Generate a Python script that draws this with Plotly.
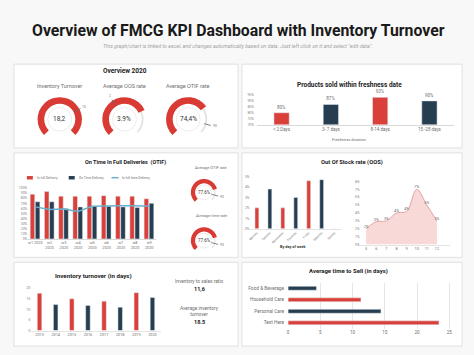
import math
import plotly.graph_objects as go

W, H = 474, 355
def X(px): return px / W
def Y(py): return 1 - py / H

RED = "#D9403A"
NAVY = "#273E51"
TEAL = "#6AAFCB"
PINK_FILL = "#F9D8D8"
PINK_LINE = "#E3A4A4"
GRAY_TXT = "#6E6E6E"
FONT = "Roboto"

# ---------------- data ----------------
gauge_titles = ["Inventory Turnover", "Average OOS rate", "Average OTIF rate"]
gauge_values = ["18,2", "3.9%", "74,4%"]
gauge_fill = [1.0, 0.74, 0.70]
gauge_target_labels = ["15", "2", "90"]
gauge_target_pos = [0.73, 0.38, 0.89]

fresh_cats = ["< 2 Days", "3- 7 days", "8-14 days", "15 -28 days"]
fresh_vals = [80, 87, 93, 90]
fresh_ticks = [70, 75, 80, 85, 90, 95]

otif_weeks = ["w1 2020", "w2<br>2020", "w3<br>2020", "w4<br>2020", "w5<br>2020",
              "w6<br>2020", "w7<br>2020", "w8<br>2020", "w9<br>2020"]
otif_infull = [88, 93, 84, 84, 84, 85, 84, 84, 79]
otif_ontime = [73, 73, 60, 63, 64, 64, 63, 62, 70]
otif_infull_time = [63, 58, 59, 54, 64, 65, 65, 65, 64]
otif_series = ["In full Delivery", "On Time Delivery", "In full time Delivery"]

small_gauge_titles = ["Average OTIF rate", "Average time rate"]
small_gauge_values = ["77.6%", "77.6%"]
small_gauge_fill = [0.776, 0.776]
small_gauge_target_labels = ["90", "90"]
small_gauge_target_pos = [0.89, 0.89]

oos_days = ["Monday", "Tuesday", "Wednesday", "Thursday", "Friday", "Saturday", "Sunday"]
oos_day_vals = [2.0, 3.8, 2.0, 3.0, 4.6, 4.7, 0]
oos_hours = [5, 6, 7, 8, 9, 10, 11, 12]
oos_hour_vals = [2.0, 2.9, 3.0, 4.0, 4.2, 7.0, 5.0, 3.0]
oos_hour_labels = ["2%", "3%", "3%", "4%", "4%", "7%", "5%", "3%"]

inv_years = ["2013", "2014", "2015", "2016", "2017", "2018", "2019", "2020"]
inv_days = [17.5, 12.2, 14.9, 11.8, 13.8, 11.0, 17.8, 15.5]
inv_ratio_label = "Inventory to sales ratio"
inv_ratio_value = "11,6"
inv_avg_label = "Average inventory<br>turnover"
inv_avg_value = "18.5"

sell_cats = ["Food & Beverage", "Household Care", "Personal Care", "Text Here"]
sell_days = [4.4, 11.3, 14.4, 23.4]

# ---------------- figure ----------------
fig = go.Figure()
shapes = []
annotations = []

def ann(x, y, text, size=5, color=GRAY_TXT, bold=False, xanchor="center", italic=False, family=FONT):
    t = text
    if bold:
        t = "<b>" + t + "</b>"
    if italic:
        t = "<i>" + t + "</i>"
    annotations.append(dict(x=X(x), y=Y(y), xref="paper", yref="paper", text=t,
                            showarrow=False, xanchor=xanchor, yanchor="middle",
                            font=dict(size=size, color=color, family=family)))

# panels
panels = [(12, 62, 237, 147), (241, 62, 462, 147),
          (12, 152, 237, 258), (241, 152, 462, 258),
          (12, 263, 237, 348), (241, 263, 462, 348)]
for (x0, y0, x1, y1) in panels:
    shapes.append(dict(type="rect", xref="paper", yref="paper", x0=X(x0), x1=X(x1),
                       y0=Y(y1), y1=Y(y0), fillcolor="white",
                       line=dict(color="#E0E0E0", width=1), layer="below"))

# title
ann(237, 28, "Overview of FMCG KPI Dashboard with Inventory Turnover", size=15.8,
    color="#1A1A1A", bold=True)
ann(237, 43.5, 'This graph/chart is linked to excel, and changes automatically based on data. '
    'Just left click on it and select "edit data".', size=5.3, color="#A0A0A0", italic=True)

def gauge(cx, cy, r, fill, val_text, tgt_pos, tgt_label, hole, val_size, inner_r):
    r2 = r * 0.86
    fig.add_trace(go.Pie(values=[270, 90], marker=dict(colors=["#E4E4E4", "rgba(0,0,0,0)"]),
                         hole=0.9, rotation=225, direction="clockwise", sort=False,
                         textinfo="none", hoverinfo="skip", showlegend=False,
                         domain=dict(x=[X(cx - r2), X(cx + r2)], y=[Y(cy + r2), Y(cy - r2)])))
    fig.add_trace(go.Pie(values=[fill * 270, (1 - fill) * 270, 90],
                         marker=dict(colors=["#D93A34", "rgba(0,0,0,0)", "rgba(0,0,0,0)"]),
                         hole=hole, rotation=225, direction="clockwise", sort=False,
                         textinfo="none", hoverinfo="skip", showlegend=False,
                         domain=dict(x=[X(cx - r), X(cx + r)], y=[Y(cy + r), Y(cy - r)])))
    shapes.append(dict(type="circle", xref="paper", yref="paper",
                       x0=X(cx - inner_r), x1=X(cx + inner_r), y0=Y(cy + inner_r), y1=Y(cy - inner_r),
                       line=dict(color="#EDEDED", width=1)))
    ann(cx, cy, val_text, size=val_size, color="#333333")
    a = math.radians(225 + tgt_pos * 270)
    p0 = (cx + (r - 6) * math.sin(a), cy - (r - 6) * math.cos(a))
    p1 = (cx + (r + 1) * math.sin(a), cy - (r + 1) * math.cos(a))
    shapes.append(dict(type="line", xref="paper", yref="paper", x0=X(p0[0]), y0=Y(p0[1]),
                       x1=X(p1[0]), y1=Y(p1[1]), line=dict(color="#666666", width=0.8)))
    pl = (cx + (r + 5) * math.sin(a), cy - (r + 5) * math.cos(a))
    ann(pl[0], pl[1], tgt_label, size=3.5, color="#777777")

# panel 1 gauges
ann(124, 69, "Overview 2020", size=6.5, color="#222222", bold=True)
g_cx = [58, 123, 187]
for i in range(3):
    ann(g_cx[i], 84, gauge_titles[i], size=5.5, color=GRAY_TXT)
    gauge(g_cx[i], 118, 22.5, gauge_fill[i], gauge_values[i], gauge_target_pos[i],
          gauge_target_labels[i], 0.70, 6.5, 12)

# panel 3 small gauges
sg_cy = [192, 241]
sg_ty = [167, 216]
for i in range(2):
    ann(210, sg_ty[i], small_gauge_titles[i], size=4, color=GRAY_TXT)
    gauge(203, sg_cy[i], 13.5, small_gauge_fill[i], small_gauge_values[i],
          small_gauge_target_pos[i], small_gauge_target_labels[i], 0.68, 4.5, 7.5)

# ---------------- panel 2: freshness ----------------
ann(349, 83, "Products sold within freshness date", size=6.5, color="#222222", bold=True)
fig.add_trace(go.Bar(x=fresh_cats, y=fresh_vals, xaxis="x", yaxis="y", width=0.31,
                     marker=dict(color=[RED, NAVY, RED, NAVY]),
                     text=[f"{v}%" for v in fresh_vals], textposition="outside",
                     textfont=dict(size=4.5, color=GRAY_TXT, family=FONT),
                     cliponaxis=False, hoverinfo="skip", showlegend=False))
ann(348, 138, "Freshness duration", size=4, color=GRAY_TXT)

# ---------------- panel 3: OTIF ----------------
ann(124, 162, "On Time In Full Deliveries  (OTIF)", size=5.5, color="#222222", bold=True)
fig.add_trace(go.Bar(x=otif_weeks, y=otif_infull, name=otif_series[0], xaxis="x2", yaxis="y2",
                     width=0.32, offset=-0.36,
                     marker=dict(color=RED), hoverinfo="skip", showlegend=False))
fig.add_trace(go.Bar(x=otif_weeks, y=otif_ontime, name=otif_series[1], xaxis="x2", yaxis="y2",
                     width=0.32, offset=0.0,
                     marker=dict(color=NAVY), hoverinfo="skip", showlegend=False))
fig.add_trace(go.Scatter(x=otif_weeks, y=otif_infull_time, name=otif_series[2], xaxis="x2",
                         yaxis="y2", mode="lines", line=dict(color=TEAL, width=1.5),
                         hoverinfo="skip", showlegend=False))
leg = [(25, RED, "box"), (67, NAVY, "box"), (110, TEAL, "line")]
for (lx, col, kind), name in zip(leg, otif_series):
    if kind == "box":
        shapes.append(dict(type="rect", xref="paper", yref="paper", x0=X(lx), x1=X(lx + 6),
                           y0=Y(179), y1=Y(175.5), fillcolor=col, line=dict(width=0)))
    else:
        shapes.append(dict(type="line", xref="paper", yref="paper", x0=X(lx), x1=X(lx + 7),
                           y0=Y(177.2), y1=Y(177.2), line=dict(color=col, width=1.5)))
    ann(lx + 8, 177.2, name, size=3.3, color=GRAY_TXT, xanchor="left")

# ---------------- panel 4: OOS ----------------
ann(351, 162, "Out Of Stock rate (OOS)", size=5.8, color="#222222", bold=True)
fig.add_trace(go.Bar(x=oos_days, y=oos_day_vals, xaxis="x3", yaxis="y3", width=0.3,
                     marker=dict(color=[RED if i % 2 == 0 else NAVY for i in range(len(oos_days))]),
                     hoverinfo="skip", showlegend=False))
ann(293, 247, "By day of week", size=3.8, color="#333333", bold=True)
fig.add_trace(go.Scatter(x=oos_hours, y=oos_hour_vals, xaxis="x4", yaxis="y4",
                         mode="lines+text", line=dict(color=PINK_LINE, width=1, shape="spline",
                                                      smoothing=1.0),
                         fill="tozeroy", fillcolor=PINK_FILL,
                         text=oos_hour_labels, textposition="top center",
                         textfont=dict(size=3.8, color=GRAY_TXT, family=FONT),
                         cliponaxis=False, hoverinfo="skip", showlegend=False))

# ---------------- panel 5: inventory turnover ----------------
ann(92, 277, "Inventory turnover (in days)", size=6.2, color="#222222", bold=True)
fig.add_trace(go.Bar(x=inv_years, y=inv_days, xaxis="x5", yaxis="y5", width=0.28,
                     marker=dict(color=[RED if i % 2 == 0 else NAVY for i in range(len(inv_years))]),
                     hoverinfo="skip", showlegend=False))
ann(198, 282, inv_ratio_label, size=4.8, color=GRAY_TXT)
ann(198, 290, inv_ratio_value, size=5.5, color="#222222", bold=True)
ann(198, 313, inv_avg_label, size=4.8, color=GRAY_TXT)
ann(198, 324, inv_avg_value, size=5.5, color="#222222", bold=True)

# ---------------- panel 6: time to sell ----------------
ann(348, 272, "Average time to Sell (in days)", size=6, color="#222222", bold=True)
fig.add_trace(go.Bar(x=sell_days, y=sell_cats, orientation="h", xaxis="x6", yaxis="y6",
                     width=0.34, marker=dict(color=[NAVY, RED, NAVY, RED]),
                     hoverinfo="skip", showlegend=False))

def xd(a, b): return [X(a), X(b)]
def yd(top, bottom): return [Y(bottom), Y(top)]

fig.update_layout(
    width=W, height=H, margin=dict(l=0, r=0, t=0, b=0),
    paper_bgcolor="#F8F8F8", plot_bgcolor="rgba(0,0,0,0)",
    font=dict(family=FONT, color=GRAY_TXT),
    shapes=shapes, annotations=annotations,
    xaxis=dict(domain=xd(256, 454), anchor="y", showgrid=False, showline=True,
               linecolor="#D9D9D9", linewidth=1, ticks="", tickfont=dict(size=4.5, color=GRAY_TXT)),
    yaxis=dict(domain=yd(93.3, 123.3), anchor="x", range=[70, 95], tickvals=fresh_ticks,
               ticktext=[f"{v}%" for v in fresh_ticks], showgrid=False, zeroline=False,
               tickfont=dict(size=3.5, color="#888888"), ticklabelstandoff=2),
    xaxis2=dict(domain=xd(26.3, 155), anchor="y2", showgrid=False, showline=True,
                linecolor="#D9D9D9", ticks="", tickfont=dict(size=3.8, color=GRAY_TXT)),
    yaxis2=dict(domain=yd(187.7, 239.3), anchor="x2", range=[0, 100], dtick=10,
                ticksuffix="%", showgrid=False, zeroline=False,
                tickfont=dict(size=3.5, color="#888888")),
    xaxis3=dict(domain=xd(249.5, 340.5), anchor="y3", showgrid=False, showline=True,
                linecolor="#E3E3E3", ticks="", tickangle=-45,
                tickfont=dict(size=3, color=GRAY_TXT)),
    yaxis3=dict(domain=yd(176, 229), anchor="x3", range=[0, 5], dtick=1, ticksuffix="%",
                showgrid=False, zeroline=False, tickfont=dict(size=3.5, color="#888888")),
    xaxis4=dict(domain=xd(360, 450), anchor="y4", range=[4.44, 13.3], tickvals=oos_hours,
                showgrid=False, showline=True, linecolor="#E3E3E3", zeroline=False, ticks="",
                tickfont=dict(size=3.8, color=GRAY_TXT)),
    yaxis4=dict(domain=yd(181, 245), anchor="x4", range=[0, 8], dtick=1, ticksuffix="%",
                showgrid=False, zeroline=False, tickfont=dict(size=3.5, color="#888888")),
    xaxis5=dict(domain=xd(29.6, 159.2), anchor="y5", showgrid=False, showline=True,
                linecolor="#E3E3E3", ticks="", tickfont=dict(size=3.8, color=GRAY_TXT)),
    yaxis5=dict(domain=yd(289, 332.3), anchor="x5", range=[0, 20], dtick=5, showgrid=False,
                zeroline=False, tickfont=dict(size=3.8, color="#888888")),
    xaxis6=dict(domain=xd(287.3, 455), anchor="y6", range=[0, 25.9], dtick=5, showgrid=True,
                gridcolor="#E6E6E6", gridwidth=0.8, zeroline=False, ticks="",
                tickfont=dict(size=4.5, color=GRAY_TXT)),
    yaxis6=dict(domain=yd(283.5, 330.2), anchor="x6", autorange="reversed", showgrid=False,
                ticks="", tickfont=dict(size=4.8, color=GRAY_TXT), ticklabelstandoff=3),
)

fig.write_html("out.html", config=dict(displayModeBar=False),
               post_script="document.body.style.margin='0';document.body.style.overflow='hidden';")
